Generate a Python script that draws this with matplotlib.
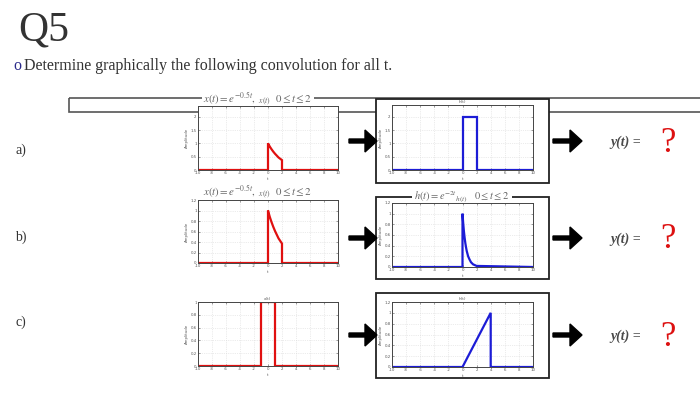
import matplotlib.pyplot as plt
from matplotlib.patches import Rectangle, FancyArrow

plt.rcParams['mathtext.fontset'] = 'stix'

# --- signals (t, value) ---
xa_t = [-10, 0, 0, 0.25, 0.5, 0.75, 1.0, 1.25, 1.5, 1.75, 2, 2, 10]
xa_v = [0, 0, 1, 0.88, 0.78, 0.69, 0.61, 0.54, 0.47, 0.42, 0.37, 0, 0]
ha_t = [-10, 0, 0, 2, 2, 10]
ha_v = [0, 0, 2, 2, 0, 0]

xb_t = xa_t
xb_v = xa_v
hb_t = [-10, 0, 0, 0.1, 0.2, 0.3, 0.4, 0.5, 0.6, 0.8, 1.0, 1.2, 1.5, 2.0, 10]
hb_v = [0, 0, 1, 0.82, 0.67, 0.55, 0.45, 0.37, 0.30, 0.20, 0.14, 0.09, 0.05, 0.02, 0]

xc_t = [-10, -1, -1, 1, 1, 10]
xc_v = [0, 0, 1, 1, 0, 0]
hc_t = [-10, 0, 4, 4, 10]
hc_v = [0, 0, 1, 0, 0]

x_ticks = list(range(-10, 11, 2))
yt_a = [0, 0.5, 1, 1.5, 2]
yt_12 = [0, 0.2, 0.4, 0.6, 0.8, 1, 1.2]
yt_1 = [0, 0.2, 0.4, 0.6, 0.8, 1]

W, H = 700, 393
fig = plt.figure(figsize=(7, 3.93), dpi=100)

# background layer in pixel coords
bg = fig.add_axes([0, 0, 1, 1], zorder=0)
bg.set_xlim(0, W)
bg.set_ylim(H, 0)
bg.axis('off')

bg.text(18, 30, 'Q5', fontsize=30, family='Liberation Serif', color='#333333',
        va='center', ha='left')
bg.text(13, 66, 'o', fontsize=11.5, family='Liberation Serif', color='#2a2a8a',
        va='center', ha='left')
bg.text(24, 66, 'Determine graphically the following convolution for all t.',
        fontsize=11.5, family='Liberation Serif', color='#333333', va='center', ha='left')

for lab, yy in [('a)', 150), ('b)', 237), ('c)', 322)]:
    bg.text(15, yy, lab, fontsize=10, family='Liberation Serif', color='#333333',
            va='center', ha='left')

# long strip across the top row
bg.add_patch(Rectangle((69, 98), 700 - 69 + 5, 13.5, fill=False,
                       edgecolor='#555555', lw=1.2, zorder=1))

# frames around the h(t) panels
for top, bot in [(99, 183), (197, 279), (293, 378)]:
    bg.add_patch(Rectangle((376, top), 173, bot - top, facecolor='white',
                           edgecolor='#222222', lw=1.3, zorder=2))

# arrows and the y(t) = ? prompts
for yy in [141, 238, 335]:
    bg.add_patch(FancyArrow(349, yy, 28, 0, width=4, head_width=22,
                            head_length=12, length_includes_head=True,
                            color='black', zorder=3))
    bg.add_patch(FancyArrow(553, yy, 29, 0, width=4, head_width=22,
                            head_length=12, length_includes_head=True,
                            color='black', zorder=3))
    bg.text(610, yy + 1, 'y(t) =', fontsize=10, family='Liberation Serif',
            style='italic', weight='bold', color='#4a4a4a', va='center', ha='left')
    bg.text(660, yy + 2, '?', fontsize=25, family='Liberation Serif',
            color='#dd1111', va='center', ha='left')

# titles on the strip / frames
title_x = r'$x(t) = e^{-0.5t},\ {}_{x(t)}\ \ 0 \leq t \leq 2$'
bg.text(258, 99, title_x, fontsize=7.8, color='#666666', va='center', ha='center',
        zorder=4, bbox=dict(facecolor='white', edgecolor='none', pad=1))
bg.text(258, 192, title_x, fontsize=7.8, color='#666666', va='center', ha='center',
        zorder=4)
bg.text(462, 197, r'$h(t) = e^{-2t}{}_{h(t)}\quad 0 \leq t \leq 2$', fontsize=7.5,
        color='#666666', va='center', ha='center', zorder=4,
        bbox=dict(facecolor='white', edgecolor='none', pad=1.5))


def panel(left, top, right, bottom, t, v, color, yticks, ylim, title=None):
    ax = fig.add_axes([left / W, 1 - bottom / H, (right - left) / W, (bottom - top) / H],
                      zorder=5)
    ax.plot(t, v, color=color, lw=1.6, solid_joinstyle='miter')
    ax.set_xlim(-10, 10)
    ax.set_ylim(0, ylim)
    ax.set_xticks(x_ticks)
    ax.set_yticks(yticks)
    ax.set_xticklabels([str(k) for k in x_ticks])
    ax.set_yticklabels([('%g' % k) for k in yticks])
    ax.grid(True, color='#d9d9d9', lw=0.5, ls=':')
    ax.tick_params(labelsize=2.8, length=1.5, width=0.4, direction='in',
                   top=True, right=True, pad=1, colors='#555555')
    for s in ax.spines.values():
        s.set_color('#444444')
        s.set_linewidth(0.7)
    ax.set_ylabel('Amplitude', fontsize=2.8, labelpad=1, color='#555555')
    ax.set_xlabel('t', fontsize=2.8, labelpad=1, color='#555555')
    if title:
        ax.set_title(title, fontsize=3, pad=1.5, color='#555555')
    return ax


red = '#e01010'
blue = '#1c1cd6'

panel(198, 106, 338, 170, xa_t, xa_v, red, yt_a, 2.4)
panel(392, 105, 533, 170, ha_t, ha_v, blue, yt_a, 2.45, 'h(t)')
panel(198, 200, 338, 263, xb_t, xb_v, red, yt_12, 1.2)
panel(392, 203, 533, 267, hb_t, hb_v, blue, yt_12, 1.2)
panel(198, 302, 338, 366, xc_t, xc_v, red, yt_1, 1.0, 'x(t)')
panel(392, 302, 533, 367, hc_t, hc_v, blue, yt_12, 1.2, 'h(t)')

fig.savefig('out.png', dpi=100)
